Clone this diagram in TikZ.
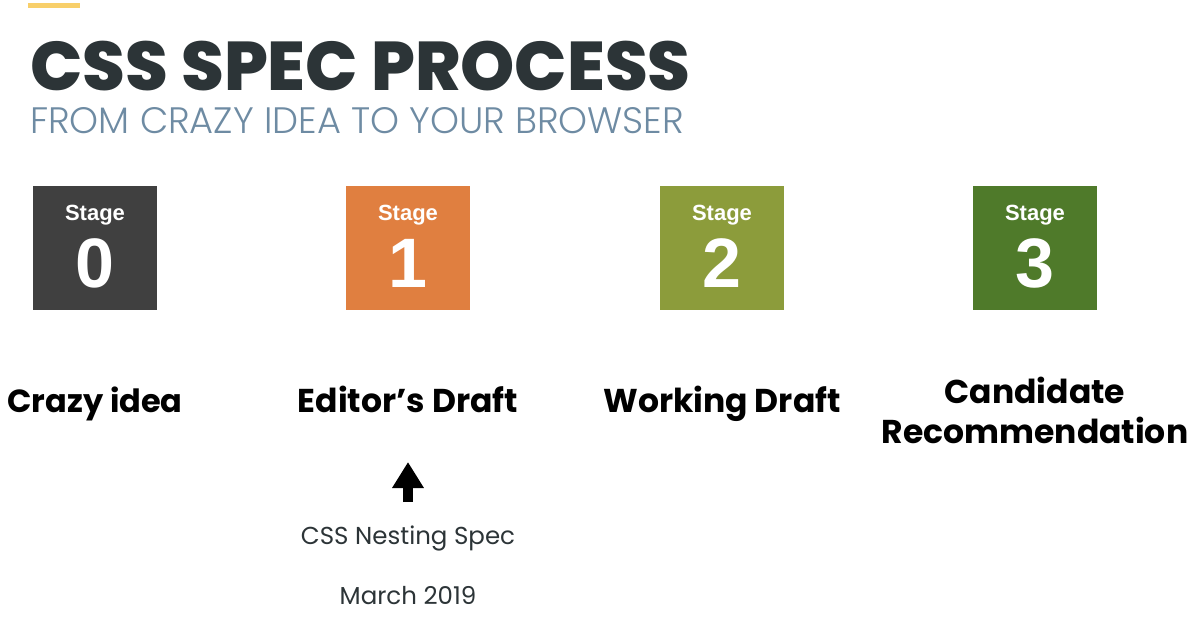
\documentclass[tikz,border=0pt]{standalone}
\usepackage{fontspec}
\setmainfont{Poppins}
\newfontfamily\boxfont{Liberation Sans}
\newfontfamily\heavyfont{Poppins ExtraBold}
\newfontfamily\lightfont{Poppins Light}
\usetikzlibrary{arrows.meta}
\definecolor{titlegray}{HTML}{2C3437}
\definecolor{subblue}{HTML}{6E8BA3}
\definecolor{baryellow}{HTML}{F8CF6A}
\definecolor{stagezero}{HTML}{404040}
\definecolor{stageone}{HTML}{E07F40}
\definecolor{stagetwo}{HTML}{8C9C3B}
\definecolor{stagethree}{HTML}{4F7A2A}

\begin{document}
\begin{tikzpicture}[x=1pt,y=-1pt,
  stagebox/.style={minimum width=124pt,minimum height=124pt,inner sep=0pt},
  stageword/.style={text=white,anchor=base,inner sep=0pt,font=\boxfont\bfseries\fontsize{22}{22}\selectfont},
  stagenum/.style={text=white,anchor=base,inner sep=0pt,font=\boxfont\bfseries\fontsize{70}{70}\selectfont},
  stagename/.style={anchor=base,inner sep=0pt,text=black,align=center,font=\bfseries\fontsize{33}{40}\selectfont},
  note/.style={anchor=base,inner sep=0pt,text=titlegray,font=\fontsize{24.5}{24.5}\selectfont}]
\useasboundingbox (0,0) rectangle (1200,618);
\fill[baryellow] (28,3) rectangle (80,8);
\node[anchor=base west,inner sep=0pt,text depth=0pt,text=titlegray,font=\heavyfont\fontsize{69}{69}\selectfont] (title) at (30,90) {CSS SPEC PROCESS};
\node[anchor=base west,inner sep=0pt,text height=26pt,text=subblue,font=\lightfont\fontsize{36.8}{36.8}\selectfont] (subtitle) at (30,133) {FROM CRAZY IDEA TO YOUR BROWSER};

% stage boxes
\node[stagebox,fill=stagezero] (s0) at (95,248) {};
\node[stageword] at (95,220) {Stage};
\node[stagenum] at (95,287) {0};
\node[stagebox,fill=stageone] (s1) at (408,248) {};
\node[stageword] at (408,220) {Stage};
\node[stagenum] at (408,287) {1};
\node[stagebox,fill=stagetwo] (s2) at (722,248) {};
\node[stageword] at (722,220) {Stage};
\node[stagenum] at (722,287) {2};
\node[stagebox,fill=stagethree] (s3) at (1035,248) {};
\node[stageword] at (1035,220) {Stage};
\node[stagenum] at (1035,287) {3};

% names
\node[stagename,font=\bfseries\fontsize{32}{40}\selectfont] (crazy) at (95,412) {Crazy idea};
\node[stagename] (editor) at (408,412) {Editor’s Draft};
\node[stagename] (working) at (722,412) {Working Draft};
\node[stagename] (candidate) at (1035,443) {Candidate\\Recommendation};

% nesting spec
\node[note] (nesting) at (408,544) {CSS Nesting Spec};
\node[note] (march) at (408,604) {March 2019};
\coordinate (tail) at (408,502);
\coordinate (tip) at (408,462);
\draw[line width=10pt,-{Triangle[width=30pt,length=26pt]}] (tail) -- (tip);
\end{tikzpicture}
\end{document}
